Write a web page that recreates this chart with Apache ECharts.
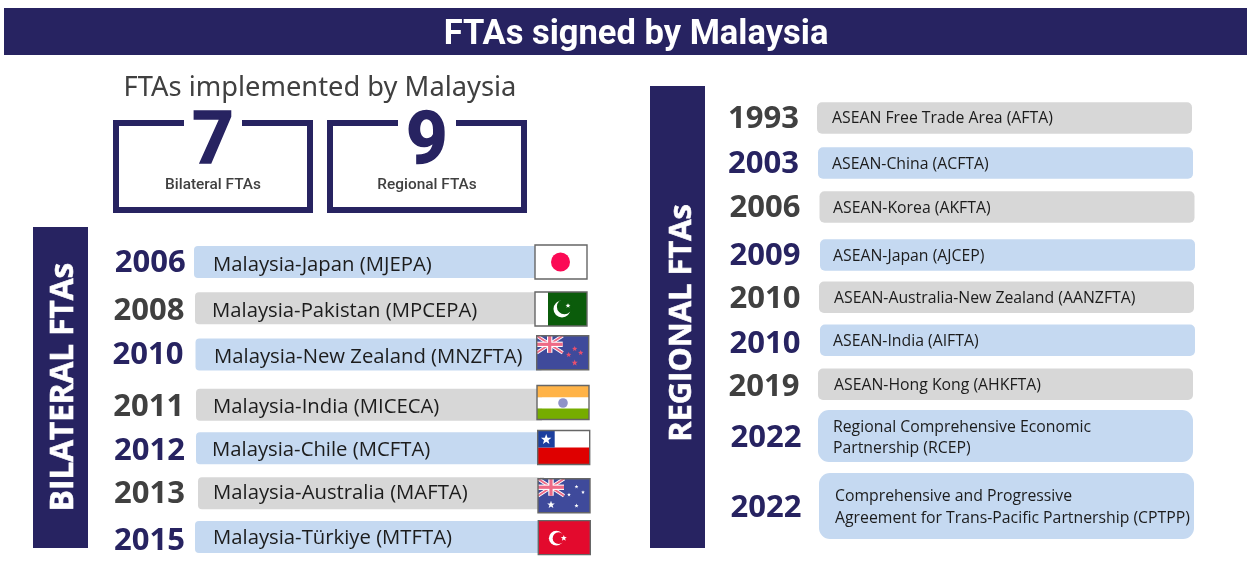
<!DOCTYPE html>
<title>FTAs signed by Malaysia</title>
<style>
body {
    margin: 0;
    background: #fff;
}
#echart {
    height: 564px;
    width: 1252px;
}
</style>
<div id='echart'></div>
<script src='https://cdn.jsdelivr.net/npm/echarts@6/dist/echarts.min.js'></script>
<script>
let TITLE = 'FTAs signed by Malaysia'
let SUBTITLE = 'FTAs implemented by Malaysia'

let bilateralYears = ['2006', '2008', '2010', '2011', '2012', '2013', '2015']
let bilateralNames = [
    'Malaysia-Japan (MJEPA)',
    'Malaysia-Pakistan (MPCEPA)',
    'Malaysia-New Zealand (MNZFTA)',
    'Malaysia-India (MICECA)',
    'Malaysia-Chile (MCFTA)',
    'Malaysia-Australia (MAFTA)',
    'Malaysia-Türkiye (MTFTA)',
]
let bilateralFlags = ['japan', 'pakistan', 'newZealand', 'india', 'chile', 'australia', 'turkiye']

let regionalYears = ['1993', '2003', '2006', '2009', '2010', '2010', '2019', '2022', '2022']
let regionalNames = [
    'ASEAN Free Trade Area (AFTA)',
    'ASEAN-China (ACFTA)',
    'ASEAN-Korea (AKFTA)',
    'ASEAN-Japan (AJCEP)',
    'ASEAN-Australia-New Zealand (AANZFTA)',
    'ASEAN-India (AIFTA)',
    'ASEAN-Hong Kong (AHKFTA)',
    'Regional Comprehensive Economic\nPartnership (RCEP)',
    'Comprehensive and Progressive\nAgreement for Trans-Pacific Partnership (CPTPP)',
]

let NAVY = '#272361'
let DARK = '#404040'
let BLUE = '#c5d9f1'
let GRAY = '#d7d7d7'
let FONT = '"Open Sans", sans-serif'

// the source is hand placed, so each row carries small pixel nudges off its band
let bilateralLayout = {
    tints: [BLUE, GRAY, BLUE, GRAY, BLUE, GRAY, BLUE],
    barHeight: [32, 32, 32, 32, 32, 32, 32],
    radius: 4, yearX: -44, labelX: 19, yearSize: 31, labelSize: 20.3, lineHeight: 24,
    barDx: [0, 1, 1.5, 2, 2, 4, 1],
    barDy: [0, 0.5, 0.8, 5.2, 3, 2.1, 0],
    yearDx: [0.3, -1, -2, -1.3, -0.5, -0.5, -0.5],
    yearDy: [1, 2.9, 2, 7.8, 5.4, 3.5, 3.7],
    labelDx: [0, -1, 1, 0, -1, 0, 0],
    labelDy: [3, 3.2, 3.3, 7.5, 4.7, 1.8, 1],
    flagX: 341,
    flagDx: [0, 0, 1.7, 2, 2.7, 3, 3.3],
    flagDy: [0, 1.2, -0.85, 3, 2.2, 4.6, 0.65],
}
let regionalLayout = {
    tints: [GRAY, BLUE, GRAY, BLUE, GRAY, BLUE, GRAY],
    barHeight: [31.5, 31.5, 31.5, 31.5, 31.5, 31.5, 31.5],
    radius: 5, yearX: -53, labelX: 15, yearSize: 31, labelSize: 15.8, lineHeight: 22,
    barDx: [0, 1, 2.5, 3, 2, 3, 1],
    barDy: [0, 0.6, 0.2, 3.8, 1.7, 0.3, -0.1],
    yearDx: [-0.5, -0.5, 1, 1, 1, 1, 0],
    yearDy: [1, 1.6, 1, 4.8, 3.9, 4, 2.6],
    labelDx: [0, 0, 1, 1, 2, 1, 2],
    labelDy: [0.5, 2.1, 1.7, 5.3, 2.9, 1.5, 1.1],
}
let partnershipLayout = {
    tints: [BLUE, BLUE],
    barHeight: [52, 66],
    radius: 11, yearX: -53, labelX: 15, yearSize: 31, labelSize: 15.8, lineHeight: 21.5,
    barDx: [1, 2],
    barDy: [0, 0],
    yearDx: [2, 2],
    yearDy: [2, 1.7],
    labelDx: [1, 3],
    labelDy: [2, 1.5],
}

function starPoints(cx, cy, outer) {
    let points = []
    for (let i = 0; i < 10; i++) {
        let r = i % 2 ? outer * 0.42 : outer
        let a = -Math.PI / 2 + i * Math.PI / 5
        points.push([cx + r * Math.cos(a), cy + r * Math.sin(a)])
    }
    return points
}
function star(cx, cy, outer, fill) {
    return {type: 'polygon', shape: {points: starPoints(cx, cy, outer)}, style: {fill}}
}
function box(x, y, width, height, fill) {
    return {type: 'rect', shape: {x, y, width, height}, style: {fill}}
}
function disc(cx, cy, r, fill) {
    return {type: 'circle', shape: {cx, cy, r}, style: {fill}}
}
function stroke(x1, y1, x2, y2, color, lineWidth) {
    return {type: 'line', shape: {x1, y1, x2, y2}, style: {stroke: color, lineWidth}}
}
function unionJack() {
    let w = 26, h = 17
    return [
        box(0, 0, w, h, '#3f4a9b'),
        stroke(0, 0, w, h, '#fff', 3.6),
        stroke(w, 0, 0, h, '#fff', 3.6),
        stroke(0, 0, w, h, '#ee6a86', 1.8),
        stroke(w, 0, 0, h, '#ee6a86', 1.8),
        stroke(w / 2, 0, w / 2, h, '#fff', 5.4),
        stroke(0, h / 2, w, h / 2, '#fff', 5.4),
        stroke(w / 2, 0, w / 2, h, '#ee6a86', 3.2),
        stroke(0, h / 2, w, h / 2, '#ee6a86', 3.2),
    ]
}
let flagArt = {
    japan: () => [box(0, 0, 52, 34, '#fff'), disc(25.5, 17, 9.5, '#fb0a55')],
    pakistan: () => [
        box(0, 0, 52, 34, '#0b5c0b'), box(0, 0, 13, 34, '#fff'),
        disc(27, 17, 8.5, '#fff'), disc(29.5, 14.7, 7.6, '#0b5c0b'), star(33, 13.7, 2.6, '#fff'),
    ],
    newZealand: () => [
        box(0, 0, 52, 34, '#3f4a9b'), ...unionJack(),
        star(38, 13, 2.8, '#e8506e'), star(32, 19, 2.8, '#e8506e'),
        star(44, 17, 2.8, '#e8506e'), star(38, 27, 3.2, '#e8506e'),
    ],
    india: () => [
        box(0, 0, 52, 12, '#ffb347'), box(0, 12, 52, 11, '#fff'), box(0, 23, 52, 11, '#76ad00'),
        disc(26, 17.5, 4.8, '#8f92c8'),
    ],
    chile: () => [
        box(0, 0, 52, 17, '#fff'), box(0, 17, 52, 17, '#df0000'), box(0, 0, 17, 17, '#1c3f9e'),
        star(8.5, 9, 5.5, '#fff'),
    ],
    australia: () => [
        box(0, 0, 52, 34, '#3f4a9b'), ...unionJack(),
        star(13, 26, 4, '#fff'), star(38.5, 8, 2, '#fff'), star(31, 16, 2, '#fff'),
        star(45, 13.5, 2, '#fff'), star(38.5, 27, 2.2, '#fff'),
    ],
    turkiye: () => [
        box(0, 0, 52, 34, '#e30a2d'),
        disc(18, 17.5, 7.4, '#fff'), disc(20.3, 17.5, 5.9, '#e30a2d'), star(25.5, 17.5, 3.2, '#fff'),
    ],
}
function drawFlag(name, x, y) {
    let frame = {type: 'rect', shape: {x: 0, y: 0, width: 52, height: 34}, style: {fill: 'none', stroke: '#666', lineWidth: 1.4}}
    return {type: 'group', x, y, children: [...flagArt[name](), frame]}
}

// one custom series per block: the band of the category axis gives the row centre
function rowSeries(gridIndex, years, names, flags, layout) {
    return {
        type: 'custom',
        coordinateSystem: 'cartesian2d',
        xAxisIndex: gridIndex,
        yAxisIndex: gridIndex,
        silent: true,
        clip: false,
        encode: {x: 0, y: 1},
        data: names.map((name, i) => [1, i]),
        renderItem(params, api) {
            let i = api.value(1)
            let start = api.coord([0, i])
            let end = api.coord([1, i])
            let height = layout.barHeight[i]
            let r = flags ? [layout.radius, 0, 0, layout.radius] : layout.radius
            let tint = layout.tints[i]
            let children = [
                {
                    type: 'rect',
                    shape: {x: start[0] + layout.barDx[i], y: start[1] + layout.barDy[i] - height / 2, width: end[0] - start[0], height, r},
                    style: {fill: tint},
                },
                {
                    type: 'text',
                    x: start[0] + layout.yearX + layout.yearDx[i],
                    y: start[1] + layout.yearDy[i],
                    style: {
                        text: years[i], fill: tint == BLUE ? NAVY : DARK,
                        font: `700 ${layout.yearSize}px ${FONT}`, align: 'center', verticalAlign: 'middle',
                    },
                },
                {
                    type: 'text',
                    x: start[0] + layout.labelX + layout.labelDx[i],
                    y: start[1] + layout.labelDy[i],
                    style: {
                        text: names[i], fill: '#1c1c1c', lineHeight: layout.lineHeight,
                        font: `400 ${layout.labelSize}px ${FONT}`, align: 'left', verticalAlign: 'middle',
                    },
                },
            ]
            if (flags) {
                children.push(drawFlag(flags[i], start[0] + layout.flagX + layout.flagDx[i], start[1] + layout.flagDy[i] - 17))
            }
            return {type: 'group', children}
        },
    }
}

function hiddenX(gridIndex) {
    return {type: 'value', gridIndex, min: 0, max: 1, show: false}
}
function hiddenY(gridIndex, names) {
    return {type: 'category', gridIndex, data: names, inverse: true, show: false}
}
function bandText(text, x, y, size) {
    return {
        type: 'text', x, y, rotation: Math.PI / 2, z: 2,
        style: {text, fill: '#fff', stroke: '#fff', lineWidth: 0.6, font: `700 ${size}px ${FONT}`, align: 'center', verticalAlign: 'middle'},
    }
}
function countBox(x, gapLeft, gapRight, count, caption) {
    return [
        {type: 'rect', shape: {x: x + 3, y: 123, width: 194, height: 87}, style: {fill: 'none', stroke: NAVY, lineWidth: 6}},
        {type: 'rect', shape: {x: gapLeft, y: 118, width: gapRight - gapLeft, height: 10}, style: {fill: '#fff'}},
        {
            type: 'text', x: (gapLeft + gapRight) / 2, y: 145, z: 2,
            style: {text: String(count), fill: NAVY, stroke: NAVY, lineWidth: 1.5, font: '700 72px Roboto, sans-serif', align: 'center', verticalAlign: 'middle'},
        },
        {
            type: 'text', x: x + 100, y: 185, z: 2,
            style: {text: caption, fill: DARK, font: '500 15.4px Roboto, sans-serif', align: 'center', verticalAlign: 'middle'},
        },
    ]
}

let echart = echarts.init(document.querySelector('#echart'))
let option = {
    animation: false,
    title: {
        text: TITLE, left: 636, top: 30, textAlign: 'center', textVerticalAlign: 'middle', z: 10,
        textStyle: {color: '#fff', fontFamily: 'Roboto', fontWeight: 700, fontSize: 34.5},
    },
    grid: [
        {left: 194, top: 239.1, width: 346, height: 320.8},
        {left: 817, top: 95.8, width: 375, height: 310.8},
        {left: 817, top: 401, width: 375, height: 140},
    ],
    xAxis: [hiddenX(0), hiddenX(1), hiddenX(2)],
    yAxis: [
        hiddenY(0, bilateralNames),
        hiddenY(1, regionalNames.slice(0, 7)),
        hiddenY(2, regionalNames.slice(7)),
    ],
    series: [
        rowSeries(0, bilateralYears, bilateralNames, bilateralFlags, bilateralLayout),
        rowSeries(1, regionalYears.slice(0, 7), regionalNames.slice(0, 7), null, regionalLayout),
        rowSeries(2, regionalYears.slice(7), regionalNames.slice(7), null, partnershipLayout),
    ],
    graphic: [
        {type: 'rect', shape: {x: 4, y: 8, width: 1243, height: 47}, style: {fill: NAVY}},
        {
            type: 'text', x: 320, y: 88,
            style: {text: SUBTITLE, fill: DARK, font: '400 27.3px "Noto Sans", sans-serif', align: 'center', verticalAlign: 'middle'},
        },
        ...countBox(113, 184, 242, bilateralNames.length, 'Bilateral FTAs'),
        ...countBox(327, 398, 456, regionalNames.length, 'Regional FTAs'),
        {type: 'rect', shape: {x: 33, y: 227, width: 55, height: 321}, style: {fill: NAVY}},
        bandText('BILATERAL FTAs', 64, 387, 31.5),
        {type: 'rect', shape: {x: 650, y: 86, width: 55, height: 462}, style: {fill: NAVY}},
        bandText('REGIONAL FTAs', 682, 323, 30.8),
    ],
}
option.title.left = 631
echart.setOption(option)
</script>
